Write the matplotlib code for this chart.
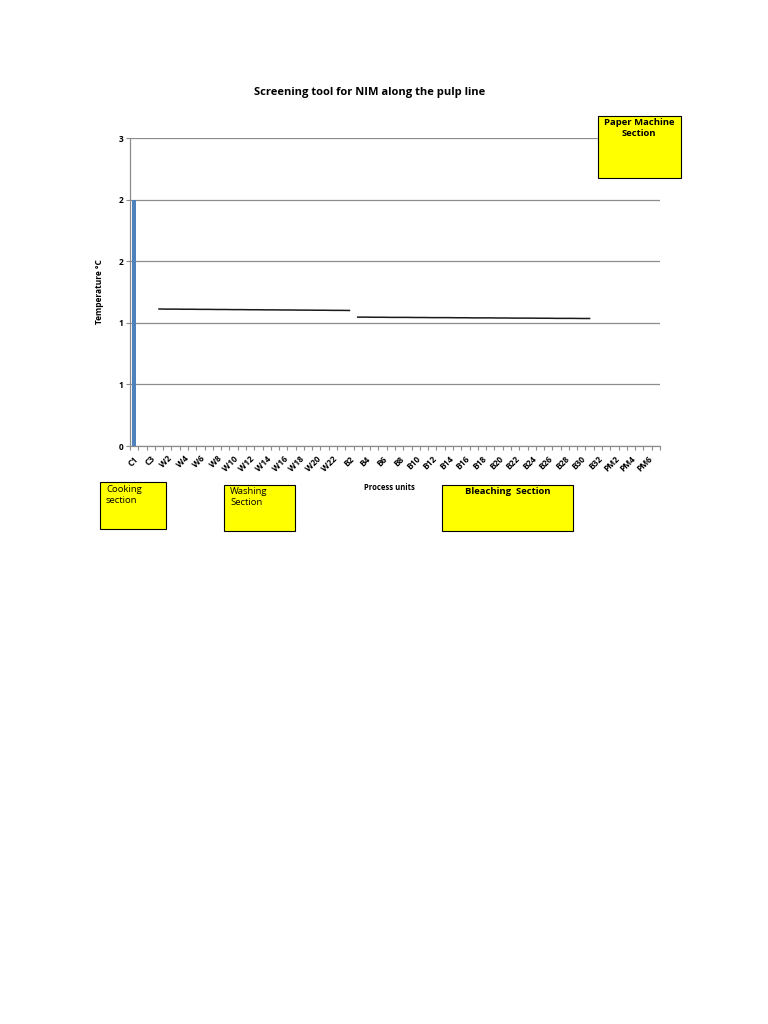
import matplotlib.pyplot as plt
from matplotlib.patches import Rectangle

# process units along the pulp line
cooking = ['C1', 'C2', 'C3']
washing_units = ['W{}'.format(i) for i in range(1, 23)]
bleaching_units = ['B{}'.format(i) for i in range(1, 33)]
paper_units = ['PM{}'.format(i) for i in range(1, 8)]
units = cooking + washing_units + bleaching_units + paper_units

# values
bar_units = ['C1']
bar_values = [2.0]

washing_start = 'W1'
washing = [1.112, 1.111, 1.111, 1.110, 1.110, 1.109, 1.109, 1.108, 1.108, 1.107,
           1.107, 1.106, 1.106, 1.105, 1.105, 1.104, 1.104, 1.103, 1.103, 1.102,
           1.102, 1.101, 1.101, 1.100]

bleaching_start = 'B3'
bleaching = [1.046, 1.046, 1.045, 1.045, 1.044, 1.044, 1.044, 1.043, 1.043, 1.042,
             1.042, 1.042, 1.041, 1.041, 1.040, 1.040, 1.040, 1.039, 1.039, 1.038,
             1.038, 1.038, 1.037, 1.037, 1.036, 1.036, 1.036, 1.035, 1.035]

y_ticks = [0, 0.5, 1.0, 1.5, 2.0, 2.5]
y_tick_labels = ['0', '1', '1', '2', '2', '3']

font = ['Open Sans', 'DejaVu Sans']
plt.rcParams['font.family'] = font

fig = plt.figure(figsize=(7.68, 10.24), dpi=100)
W, H = 768, 1024
ax = fig.add_axes([130 / W, 1 - 446 / H, 530 / W, 308 / H])

pos = {u: i for i, u in enumerate(units)}

ax.bar([pos[u] for u in bar_units], bar_values, width=0.5, color='#4f81bd', zorder=3)

ws = pos[washing_start]
ax.plot(range(ws, ws + len(washing)), washing, color='#1a1a1a', lw=1.1, zorder=4)
bs = pos[bleaching_start]
ax.plot(range(bs, bs + len(bleaching)), bleaching, color='#1a1a1a', lw=1.1, zorder=4)

ax.set_xlim(-0.5, len(units) - 0.5)
ax.set_ylim(0, 2.5)

ax.set_yticks(y_ticks)
ax.set_yticklabels(y_tick_labels, fontsize=6, fontweight='bold')
ax.yaxis.grid(True, color='#8c8c8c', lw=0.9)
ax.set_axisbelow(True)

# tick marks between categories, labels on every other category
ax.set_xticks([i - 0.5 for i in range(len(units) + 1)])
ax.set_xticklabels([])
ax.set_xticks(range(0, len(units), 2), minor=True)
ax.set_xticklabels(units[::2], minor=True, rotation=45, ha='right', va='top',
                   rotation_mode='anchor', fontsize=6, fontweight='bold')
ax.tick_params(axis='x', which='major', length=3, color='#8c8c8c', direction='out')
ax.tick_params(axis='x', which='minor', length=0, pad=6)
ax.tick_params(axis='y', length=3, color='#8c8c8c', pad=2)

for s in ['top', 'right']:
    ax.spines[s].set_visible(False)
for s in ['left', 'bottom']:
    ax.spines[s].set_color('#8c8c8c')
    ax.spines[s].set_linewidth(0.9)

ax.set_ylabel('Temperature °C', fontsize=6, fontweight='bold', labelpad=10)

fig.text(370 / W, 1 - 92 / H, 'Screening tool for NIM along the pulp line',
         ha='center', va='center', fontsize=8, fontweight='bold')
fig.text(389 / W, 1 - 488 / H, 'Process units', ha='center', va='center',
         fontsize=5.5, fontweight='bold')


def section_box(x0, y0, x1, y1, text, tx, ty, ha='left', weight='normal'):
    fig.patches.append(Rectangle((x0 / W, 1 - y1 / H), (x1 - x0) / W, (y1 - y0) / H,
                                 transform=fig.transFigure, facecolor='#ffff00',
                                 edgecolor='black', lw=0.8))
    fig.text(tx / W, 1 - ty / H, text, ha=ha, va='top', fontsize=6.8,
             fontweight=weight, linespacing=1.25)


section_box(100, 482, 166, 529, 'Cooking\nsection', 106, 485)
section_box(224, 485, 295, 531, 'Washing\nSection', 230, 487)
section_box(442, 485, 573, 531, 'Bleaching  Section', 508, 487, ha='center', weight='bold')
section_box(598, 116, 681, 178, 'Paper Machine\nSection', 639, 118, ha='center', weight='bold')

fig.savefig('out.png', dpi=100)
